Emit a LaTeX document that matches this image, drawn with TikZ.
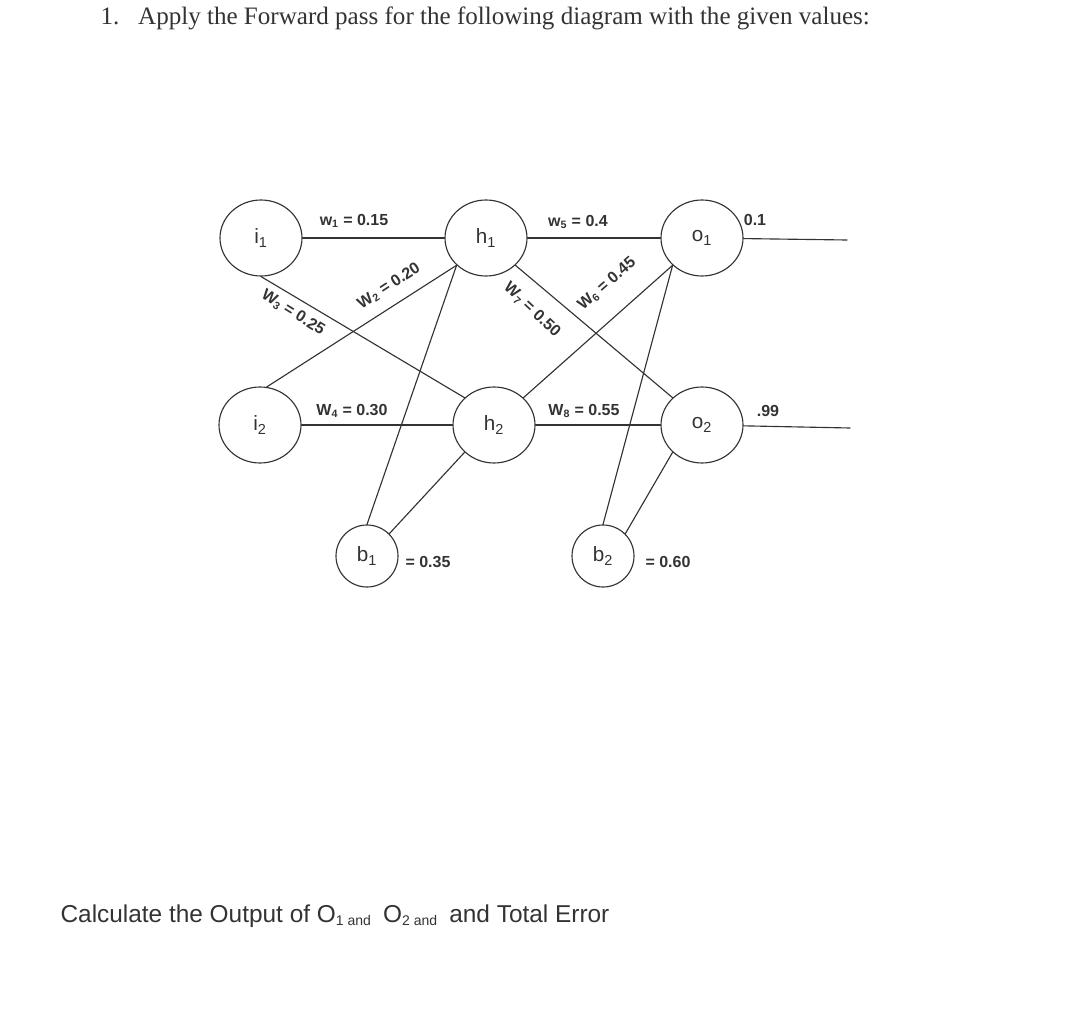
\documentclass[tikz,border=0pt]{standalone}
\usepackage{fontspec}
\setmainfont{Liberation Sans}
\newfontfamily\titlefont{Liberation Serif}
\usetikzlibrary{shapes.geometric}
\begin{document}
\begin{tikzpicture}[x=0.75pt,y=-0.75pt,line join=round,line cap=round,
    every path/.style={line width=0.85pt,black!80},
    neuron/.style={draw,ellipse,minimum width=61.5pt,minimum height=57pt,inner sep=0pt,font=\fontsize{15.5}{18}\selectfont},
    bias/.style={draw,circle,minimum size=46.5pt,inner sep=0pt,font=\fontsize{15.5}{18}\selectfont},
    wt/.style={font=\fontsize{12}{14}\selectfont\bfseries,inner sep=0pt}]
    \useasboundingbox (0,0) rectangle (1067,1034);
    \node[anchor=base west,inner sep=0pt,font=\titlefont\fontsize{18.8}{22}\selectfont] (title) at (100,25) {1.\hspace{0.75em}Apply the Forward pass for the following diagram with the given values:};
    % neurons
    \node[neuron] (i1) at (261,238) {i\textsubscript{1}};
    \node[neuron] (i2) at (260,425) {i\textsubscript{2}};
    \node[neuron] (h1) at (486,238) {h\textsubscript{1}};
    \node[neuron] (h2) at (494,425) {h\textsubscript{2}};
    \node[neuron] (o1) at (702,238) {o\textsubscript{1}};
    \node[neuron] (o2) at (702,425) {o\textsubscript{2}};
    \node[bias] (b1) at (367,556) {b\textsubscript{1}};
    \node[bias] (b2) at (603,556) {b\textsubscript{2}};
    \coordinate (out1) at (847,240);
    \coordinate (out2) at (850,428);
    % connections
    \draw (i1) -- (h1);
    \draw (i2) -- (h2);
    \draw (i1.south) -- (h2.north west);
    \draw (i2.80) -- (h1.south west);
    \draw (h1) -- (o1);
    \draw (h2) -- (o2);
    \draw (h1.south east) -- (o2.north west);
    \draw (h2.north east) -- (o1.south west);
    \draw (b1.north) -- (h1.south west);
    \draw (b1.north east) -- (h2.south west);
    \draw (b2.north) -- (o1.south west);
    \draw (b2.north east) -- (o2.south west);
    \draw (o1) -- (out1);
    \draw (o2) -- (out2);
    % weights
    \node[wt] (w1) at (354,221) {w\textsubscript{1} = 0.15};
    \node[wt,rotate=33] (w2) at (389,286) {W\textsubscript{2} = 0.20};
    \node[wt,rotate=-32] (w3) at (293,313) {W\textsubscript{3} = 0.25};
    \node[wt] (w4) at (352,411) {W\textsubscript{4} = 0.30};
    \node[wt] (w5) at (578,222) {w\textsubscript{5} = 0.4};
    \node[wt,rotate=41] (w6) at (607,284) {W\textsubscript{6} = 0.45};
    \node[wt,rotate=-43] (w7) at (532,310) {W\textsubscript{7} = 0.50};
    \node[wt] (w8) at (584,411) {W\textsubscript{8} = 0.55};
    \node[wt] (t1) at (755,220) {0.1};
    \node[wt] (t2) at (768,411) {.99};
    \node[wt] (vb1) at (428,562) {= 0.35};
    \node[wt] (vb2) at (668,562) {= 0.60};
    \node[anchor=base west,inner sep=0pt,font=\fontsize{18.3}{22}\selectfont] (task) at (60,922)
        {Calculate the Output of O\raisebox{-0.3ex}{\fontsize{10.5}{12}\selectfont 1 and}\hspace{0.5em}O\raisebox{-0.3ex}{\fontsize{10.5}{12}\selectfont 2 and}\hspace{0.5em}and Total Error};
\end{tikzpicture}
\end{document}
